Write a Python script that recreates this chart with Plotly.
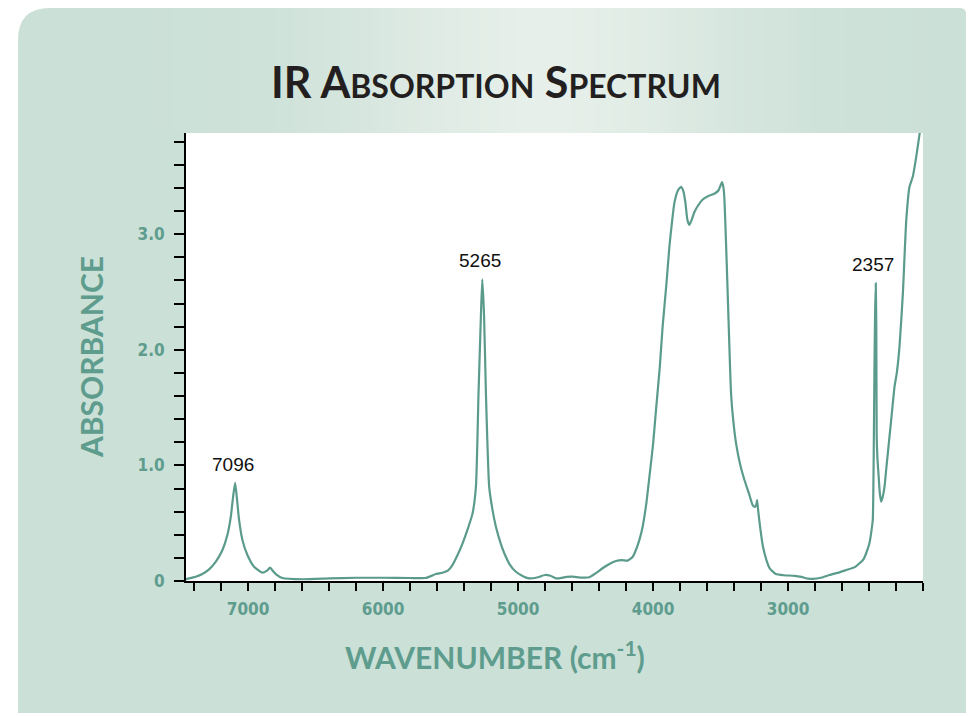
import plotly.graph_objects as go
import math

# ---- data ----
wavenumber = [7463, 7430, 7388, 7339, 7289, 7239, 7190, 7153, 7128, 7111, 7096,
              7084, 7067, 7042, 7005, 6956, 6894, 6860, 6837, 6815, 6795, 6746, 6597,
              6400, 6200, 6000, 5800, 5683, 5640, 5610, 5560, 5520, 5486, 5450, 5411,
              5370, 5337, 5312, 5293, 5275, 5265, 5252, 5238, 5214, 5190, 5164, 5130,
              5102, 5060, 5016, 4960, 4917, 4860, 4800, 4760, 4719, 4695, 4640, 4596,
              4540, 4472, 4420, 4374, 4320, 4274, 4230, 4188, 4150, 4126, 4100, 4077,
              4050, 4027, 4000, 3978, 3950, 3929, 3900, 3879, 3860, 3842, 3815, 3792,
              3775, 3760, 3745, 3731, 3715, 3694, 3665, 3632, 3590, 3546, 3514, 3489,
              3478, 3471, 3460, 3447, 3435, 3422, 3405, 3385, 3355, 3323, 3290, 3262,
              3245, 3235, 3229, 3222, 3205, 3186, 3160, 3136, 3090, 3036, 2950, 2900,
              2850, 2817, 2750, 2693, 2620, 2569, 2505, 2470, 2440, 2421, 2396, 2380,
              2372, 2365, 2360, 2355, 2350, 2346, 2343, 2337, 2330, 2320, 2310, 2300,
              2285, 2273, 2236, 2211, 2194, 2174, 2149, 2124, 2100, 2075, 2050, 2025,
              2010]
absorbance = [0.015, 0.025, 0.037, 0.06, 0.10, 0.167, 0.268, 0.40, 0.556, 0.73, 0.85,
              0.73, 0.53, 0.355, 0.225, 0.124, 0.072, 0.09, 0.115, 0.085, 0.06, 0.026, 0.015,
              0.022, 0.028, 0.028, 0.026, 0.026, 0.045, 0.06, 0.072, 0.09, 0.138, 0.22, 0.326,
              0.46, 0.585, 0.816, 1.62, 2.3, 2.61, 2.3, 1.62, 0.816, 0.62, 0.47, 0.33,
              0.24, 0.14, 0.08, 0.04, 0.023, 0.03, 0.052, 0.045, 0.023, 0.023, 0.035, 0.037,
              0.03, 0.032, 0.07, 0.11, 0.15, 0.173, 0.18, 0.176, 0.21, 0.27, 0.36, 0.47,
              0.67, 0.90, 1.18, 1.48, 1.85, 2.20, 2.58, 2.89, 3.10, 3.27, 3.38, 3.41,
              3.37, 3.27, 3.12, 3.08, 3.12, 3.19, 3.25, 3.30, 3.33, 3.35, 3.38, 3.45,
              3.40, 3.30, 2.95, 2.49, 2.05, 1.62, 1.38, 1.19, 1.01, 0.874, 0.76, 0.657,
              0.64, 0.66, 0.70, 0.62, 0.45, 0.30, 0.18, 0.11, 0.06, 0.05, 0.045, 0.035,
              0.02, 0.018, 0.03, 0.052, 0.075, 0.095, 0.12, 0.153, 0.19, 0.24, 0.33, 0.45,
              0.53, 1.10, 1.8, 2.3, 2.575, 2.2, 1.25, 1.05, 0.93, 0.76, 0.686, 0.72,
              0.816, 0.96, 1.39, 1.68, 1.80, 2.03, 2.49, 3.12, 3.41, 3.50, 3.67, 3.87,
              3.98]

peak_positions = [7096, 5265, 2352]
peak_heights = [0.85, 2.61, 2.575]
peak_labels = ["7096", "5265", "2357"]

x_major_values = [7000, 6000, 5000, 4000, 3000]
x_major_labels = ["7000", "6000", "5000", "4000", "3000"]
x_minor_step = 200
y_major_values = [0, 1, 2, 3]
y_major_labels = ["0", "1.0", "2.0", "3.0"]
y_minor_step = 0.2

# ---- styling ----
W, H = 980, 716
L, R, T, B = 186, 923, 133, 581
TEAL = "#5b9b8c"
LABEL_TEAL = "#5e9c8e"
BASE = (203, 224, 215)
LIGHT = (230, 239, 233)


def fx(X):
    return (X - L) / (R - L)


def fy(Y):
    return (B - Y) / (B - T)


def rgb(c):
    return "rgb(%d,%d,%d)" % c


shapes = []
# panel with rounded top-left corner
path = ("M {a},{b} L {a},{c} Q {a},{d} {e},{d} L {f},{d} Q {g},{d} {g},{h} L {g},{b} Z"
        .format(a=fx(18), b=fy(713), c=fy(40), d=fy(8), e=fx(50), f=fx(960), g=fx(966), h=fy(14)))
shapes.append(dict(type="path", xref="paper", yref="paper", path=path,
                   fillcolor=rgb(BASE), line=dict(width=0), layer="below"))
# soft light band behind the title
for X in range(150, 930, 6):
    t = math.exp(-((X + 3 - 545) / 200.0) ** 2)
    col = tuple(int(round(BASE[i] + (LIGHT[i] - BASE[i]) * t)) for i in range(3))
    shapes.append(dict(type="rect", xref="paper", yref="paper",
                       x0=fx(X), x1=fx(X + 6.6), y0=fy(133), y1=fy(8),
                       fillcolor=rgb(col), line=dict(width=0), layer="below"))
# white plotting area
shapes.append(dict(type="rect", xref="paper", yref="paper", x0=0, x1=1, y0=0, y1=1,
                   fillcolor="white", line=dict(width=0), layer="below"))

fig = go.Figure()
fig.add_trace(go.Scatter(x=wavenumber, y=absorbance, mode="lines",
                         line=dict(color=TEAL, width=2.2, shape="spline", smoothing=0.5),
                         hoverinfo="skip", showlegend=False, cliponaxis=True))

annotations = []
for xv, yv, lab in zip(peak_positions, peak_heights, peak_labels):
    annotations.append(dict(x=xv, y=yv, xref="x", yref="y", text=lab, showarrow=False,
                            yanchor="bottom", yshift=6, xshift=-2,
                            font=dict(family="Liberation Sans, Arial, sans-serif", size=19, color="#111111")))

annotations.append(dict(xref="paper", yref="paper", x=fx(496), y=fy(82), xanchor="center", yanchor="middle",
                        showarrow=False,
                        text='IR A<span style="font-size:32px">BSORPTION</span> S<span style="font-size:32px">PECTRUM</span>',
                        font=dict(family="Lato, Open Sans, sans-serif", size=43, color="#231f20", weight="bold")))
annotations.append(dict(xref="paper", yref="paper", x=fx(495), y=fy(655), xanchor="center", yanchor="middle",
                        showarrow=False, text="WAVENUMBER (cm<sup>-1</sup>)",
                        font=dict(family="Lato, Open Sans, sans-serif", size=30, color=LABEL_TEAL, weight="bold")))
annotations.append(dict(xref="paper", yref="paper", x=fx(91), y=fy(357), xanchor="center", yanchor="middle",
                        showarrow=False, text="ABSORBANCE", textangle=-90,
                        font=dict(family="Lato, Open Sans, sans-serif", size=30, color=LABEL_TEAL, weight="bold")))

tick_font = dict(family="Liberation Sans Narrow, DejaVu Sans Condensed, sans-serif", size=17,
                 color=LABEL_TEAL, weight="bold")

fig.update_layout(
    width=W, height=H,
    margin=dict(l=L, r=W - R, t=T, b=H - B, pad=0),
    paper_bgcolor="white", plot_bgcolor="white",
    shapes=shapes, annotations=annotations,
    xaxis=dict(range=[7460, 2000], showgrid=False, zeroline=False,
               showline=True, linecolor="black", linewidth=2,
               ticks="outside", ticklen=8, tickwidth=2, tickcolor="black",
               tickmode="array", tickvals=x_major_values, ticktext=x_major_labels,
               minor=dict(dtick=x_minor_step, tick0=0, ticks="outside", ticklen=8,
                          tickwidth=2, tickcolor="black", showgrid=False),
               tickfont=tick_font, ticklabelstandoff=4),
    yaxis=dict(range=[0, 3.875], showgrid=False, zeroline=False,
               showline=True, linecolor="black", linewidth=2,
               ticks="outside", ticklen=10, tickwidth=2, tickcolor="black",
               tickmode="array", tickvals=y_major_values, ticktext=y_major_labels,
               minor=dict(dtick=y_minor_step, tick0=0, ticks="outside", ticklen=10,
                          tickwidth=2, tickcolor="black", showgrid=False),
               tickfont=tick_font, ticklabelstandoff=6),
)

fig.write_html("out.html")
